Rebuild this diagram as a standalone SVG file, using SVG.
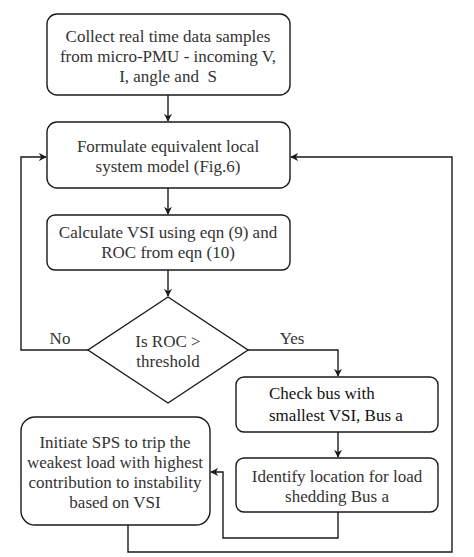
<svg xmlns="http://www.w3.org/2000/svg" width="474" height="557" viewBox="0 0 474 557">
<style>
.box{fill:#fff;stroke:#1a1a1a;stroke-width:1.4}
.t{font-family:'Liberation Serif','DejaVu Serif',serif;font-size:17px;fill:#333;text-anchor:middle;white-space:pre}
.ln{fill:none;stroke:#1a1a1a;stroke-width:1.4}
</style>
<defs>
<marker id="ah" viewBox="0 0 10 10" refX="9" refY="5" markerWidth="8" markerHeight="8" markerUnits="userSpaceOnUse" orient="auto">
<path d="M0,0 L10,5 L0,10 L3,5 Z" fill="#1a1a1a"/>
</marker>
</defs>
<rect width="474" height="557" fill="#fff"/>
<g id="connectors">
<line class="ln" x1="168" y1="95" x2="168" y2="121" marker-end="url(#ah)"/>
<line class="ln" x1="168" y1="188" x2="168" y2="214" marker-end="url(#ah)"/>
<line class="ln" x1="168" y1="270" x2="168" y2="296" marker-end="url(#ah)"/>
<polyline class="ln" points="88,350 21,350 21,157 46,157" marker-end="url(#ah)"/>
<polyline class="ln" points="248,350 338,350 338,376" marker-end="url(#ah)"/>
<line class="ln" x1="338" y1="432" x2="338" y2="457" marker-end="url(#ah)"/>
<polyline class="ln" points="338,512 338,538 223,538 223,472 211,472" marker-end="url(#ah)"/>
<polyline class="ln" points="128,525 128,552 452,552 452,157 291,157" marker-end="url(#ah)"/>
<text class="t" x="60" y="344">No</text>
<text class="t" x="292" y="344">Yes</text>
</g>
<g id="n1">
<rect class="box" x="47" y="14" width="243" height="81" rx="10"/>
<text class="t" x="168" y="42">Collect real time data samples</text>
<text class="t" x="168" y="62">from micro-PMU - incoming V,</text>
<text class="t" x="168" y="82" xml:space="preserve">I, angle and  S</text>
</g>
<g id="n2">
<rect class="box" x="47" y="122" width="243" height="66" rx="10"/>
<text class="t" x="168" y="152">Formulate equivalent local</text>
<text class="t" x="168" y="172">system model (Fig.6)</text>
</g>
<g id="n3">
<rect class="box" x="47" y="215" width="243" height="55" rx="8"/>
<text class="t" x="168" y="238">Calculate VSI using eqn (9) and</text>
<text class="t" x="168" y="258">ROC from eqn (10)</text>
</g>
<g id="n4">
<polygon class="box" points="168,297 248,350 168,403 88,350"/>
<text class="t" x="168" y="347">Is ROC &gt;</text>
<text class="t" x="168" y="367">threshold</text>
</g>
<g id="n5">
<rect class="box" x="236" y="377" width="202" height="55" rx="8"/>
<text class="t" x="269" y="399" style="text-anchor:start;fill:#111">Check bus with</text>
<text class="t" x="269" y="421" style="text-anchor:start;fill:#111">smallest VSI, Bus a</text>
</g>
<g id="n6">
<rect class="box" x="236" y="458" width="202" height="54" rx="8"/>
<text class="t" x="337" y="482">Identify location for load</text>
<text class="t" x="337" y="502">shedding Bus a</text>
</g>
<g id="n7">
<rect class="box" x="21" y="417" width="189" height="108" rx="14"/>
<text class="t" x="115" y="448">Initiate SPS to trip the</text>
<text class="t" x="115" y="468">weakest load with highest</text>
<text class="t" x="115" y="488">contribution to instability</text>
<text class="t" x="115" y="508">based on VSI</text>
</g>
</svg>
